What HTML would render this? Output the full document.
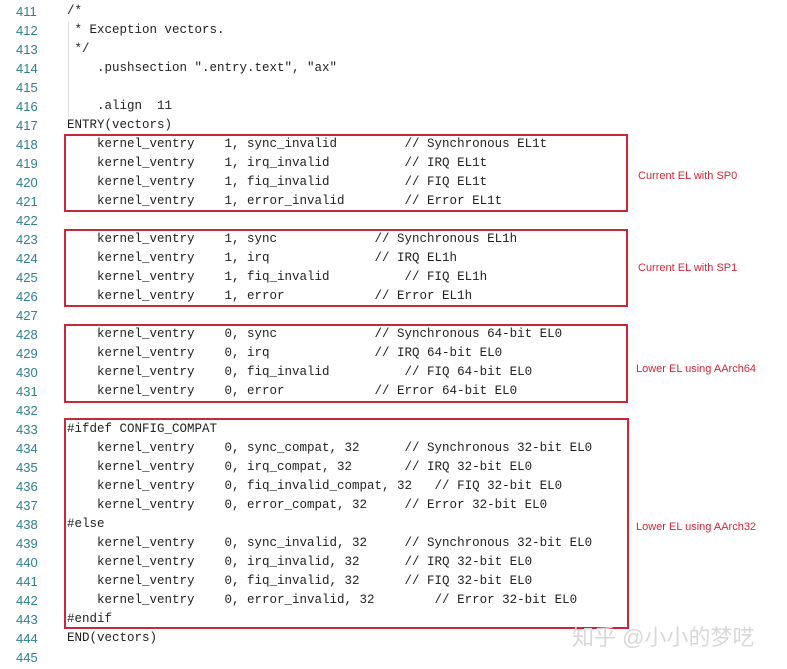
<!DOCTYPE html>
<html><head><meta charset="utf-8"><style>
body{margin:0;width:787px;height:669px;background:#fff;position:relative;overflow:hidden}
.ln{position:absolute;left:16px;top:2px;font:13px/19px "Liberation Sans",sans-serif;color:#2f7f8f;margin:0;white-space:pre}
.code{position:absolute;left:67px;top:2px;font:12.5px/19px "Liberation Mono",monospace;color:#222;margin:0;white-space:pre}
.box{position:absolute;border:2px solid #c8283a;box-sizing:border-box}
.lab{position:absolute;left:638px;font:11px "Liberation Sans",sans-serif;color:#d0283a}
.g{position:absolute;left:68px;top:22px;width:1px;height:95px;background:#ddd}
.wm{position:absolute;left:572px;top:620px;font:22px "Liberation Sans","Noto Sans CJK SC",sans-serif;color:#d8d8d8}
</style></head><body>
<pre class="ln">411
412
413
414
415
416
417
418
419
420
421
422
423
424
425
426
427
428
429
430
431
432
433
434
435
436
437
438
439
440
441
442
443
444
445</pre>
<div class="g"></div>
<pre class="code">/*
 * Exception vectors.
 */
    .pushsection ".entry.text", "ax"

    .align  11
ENTRY(vectors)
    kernel_ventry    1, sync_invalid         // Synchronous EL1t
    kernel_ventry    1, irq_invalid          // IRQ EL1t
    kernel_ventry    1, fiq_invalid          // FIQ EL1t
    kernel_ventry    1, error_invalid        // Error EL1t

    kernel_ventry    1, sync             // Synchronous EL1h
    kernel_ventry    1, irq              // IRQ EL1h
    kernel_ventry    1, fiq_invalid          // FIQ EL1h
    kernel_ventry    1, error            // Error EL1h

    kernel_ventry    0, sync             // Synchronous 64-bit EL0
    kernel_ventry    0, irq              // IRQ 64-bit EL0
    kernel_ventry    0, fiq_invalid          // FIQ 64-bit EL0
    kernel_ventry    0, error            // Error 64-bit EL0

#ifdef CONFIG_COMPAT
    kernel_ventry    0, sync_compat, 32      // Synchronous 32-bit EL0
    kernel_ventry    0, irq_compat, 32       // IRQ 32-bit EL0
    kernel_ventry    0, fiq_invalid_compat, 32   // FIQ 32-bit EL0
    kernel_ventry    0, error_compat, 32     // Error 32-bit EL0
#else
    kernel_ventry    0, sync_invalid, 32     // Synchronous 32-bit EL0
    kernel_ventry    0, irq_invalid, 32      // IRQ 32-bit EL0
    kernel_ventry    0, fiq_invalid, 32      // FIQ 32-bit EL0
    kernel_ventry    0, error_invalid, 32        // Error 32-bit EL0
#endif
END(vectors)
</pre>
<div class="box" style="left:64px;top:134px;width:564px;height:78px"></div>
<div class="box" style="left:64px;top:229px;width:564px;height:78px"></div>
<div class="box" style="left:64px;top:324px;width:564px;height:79px"></div>
<div class="box" style="left:64px;top:418px;width:565px;height:211px"></div>
<div class="lab" style="top:170px">Current EL with SP0</div>
<div class="lab" style="top:262px">Current EL with SP1</div>
<div class="lab" style="left:636px;top:363px">Lower EL using AArch64</div>
<div class="lab" style="left:636px;top:521px">Lower EL using AArch32</div>
<div class="wm">知乎 @小小的梦呓</div>
</body></html>
